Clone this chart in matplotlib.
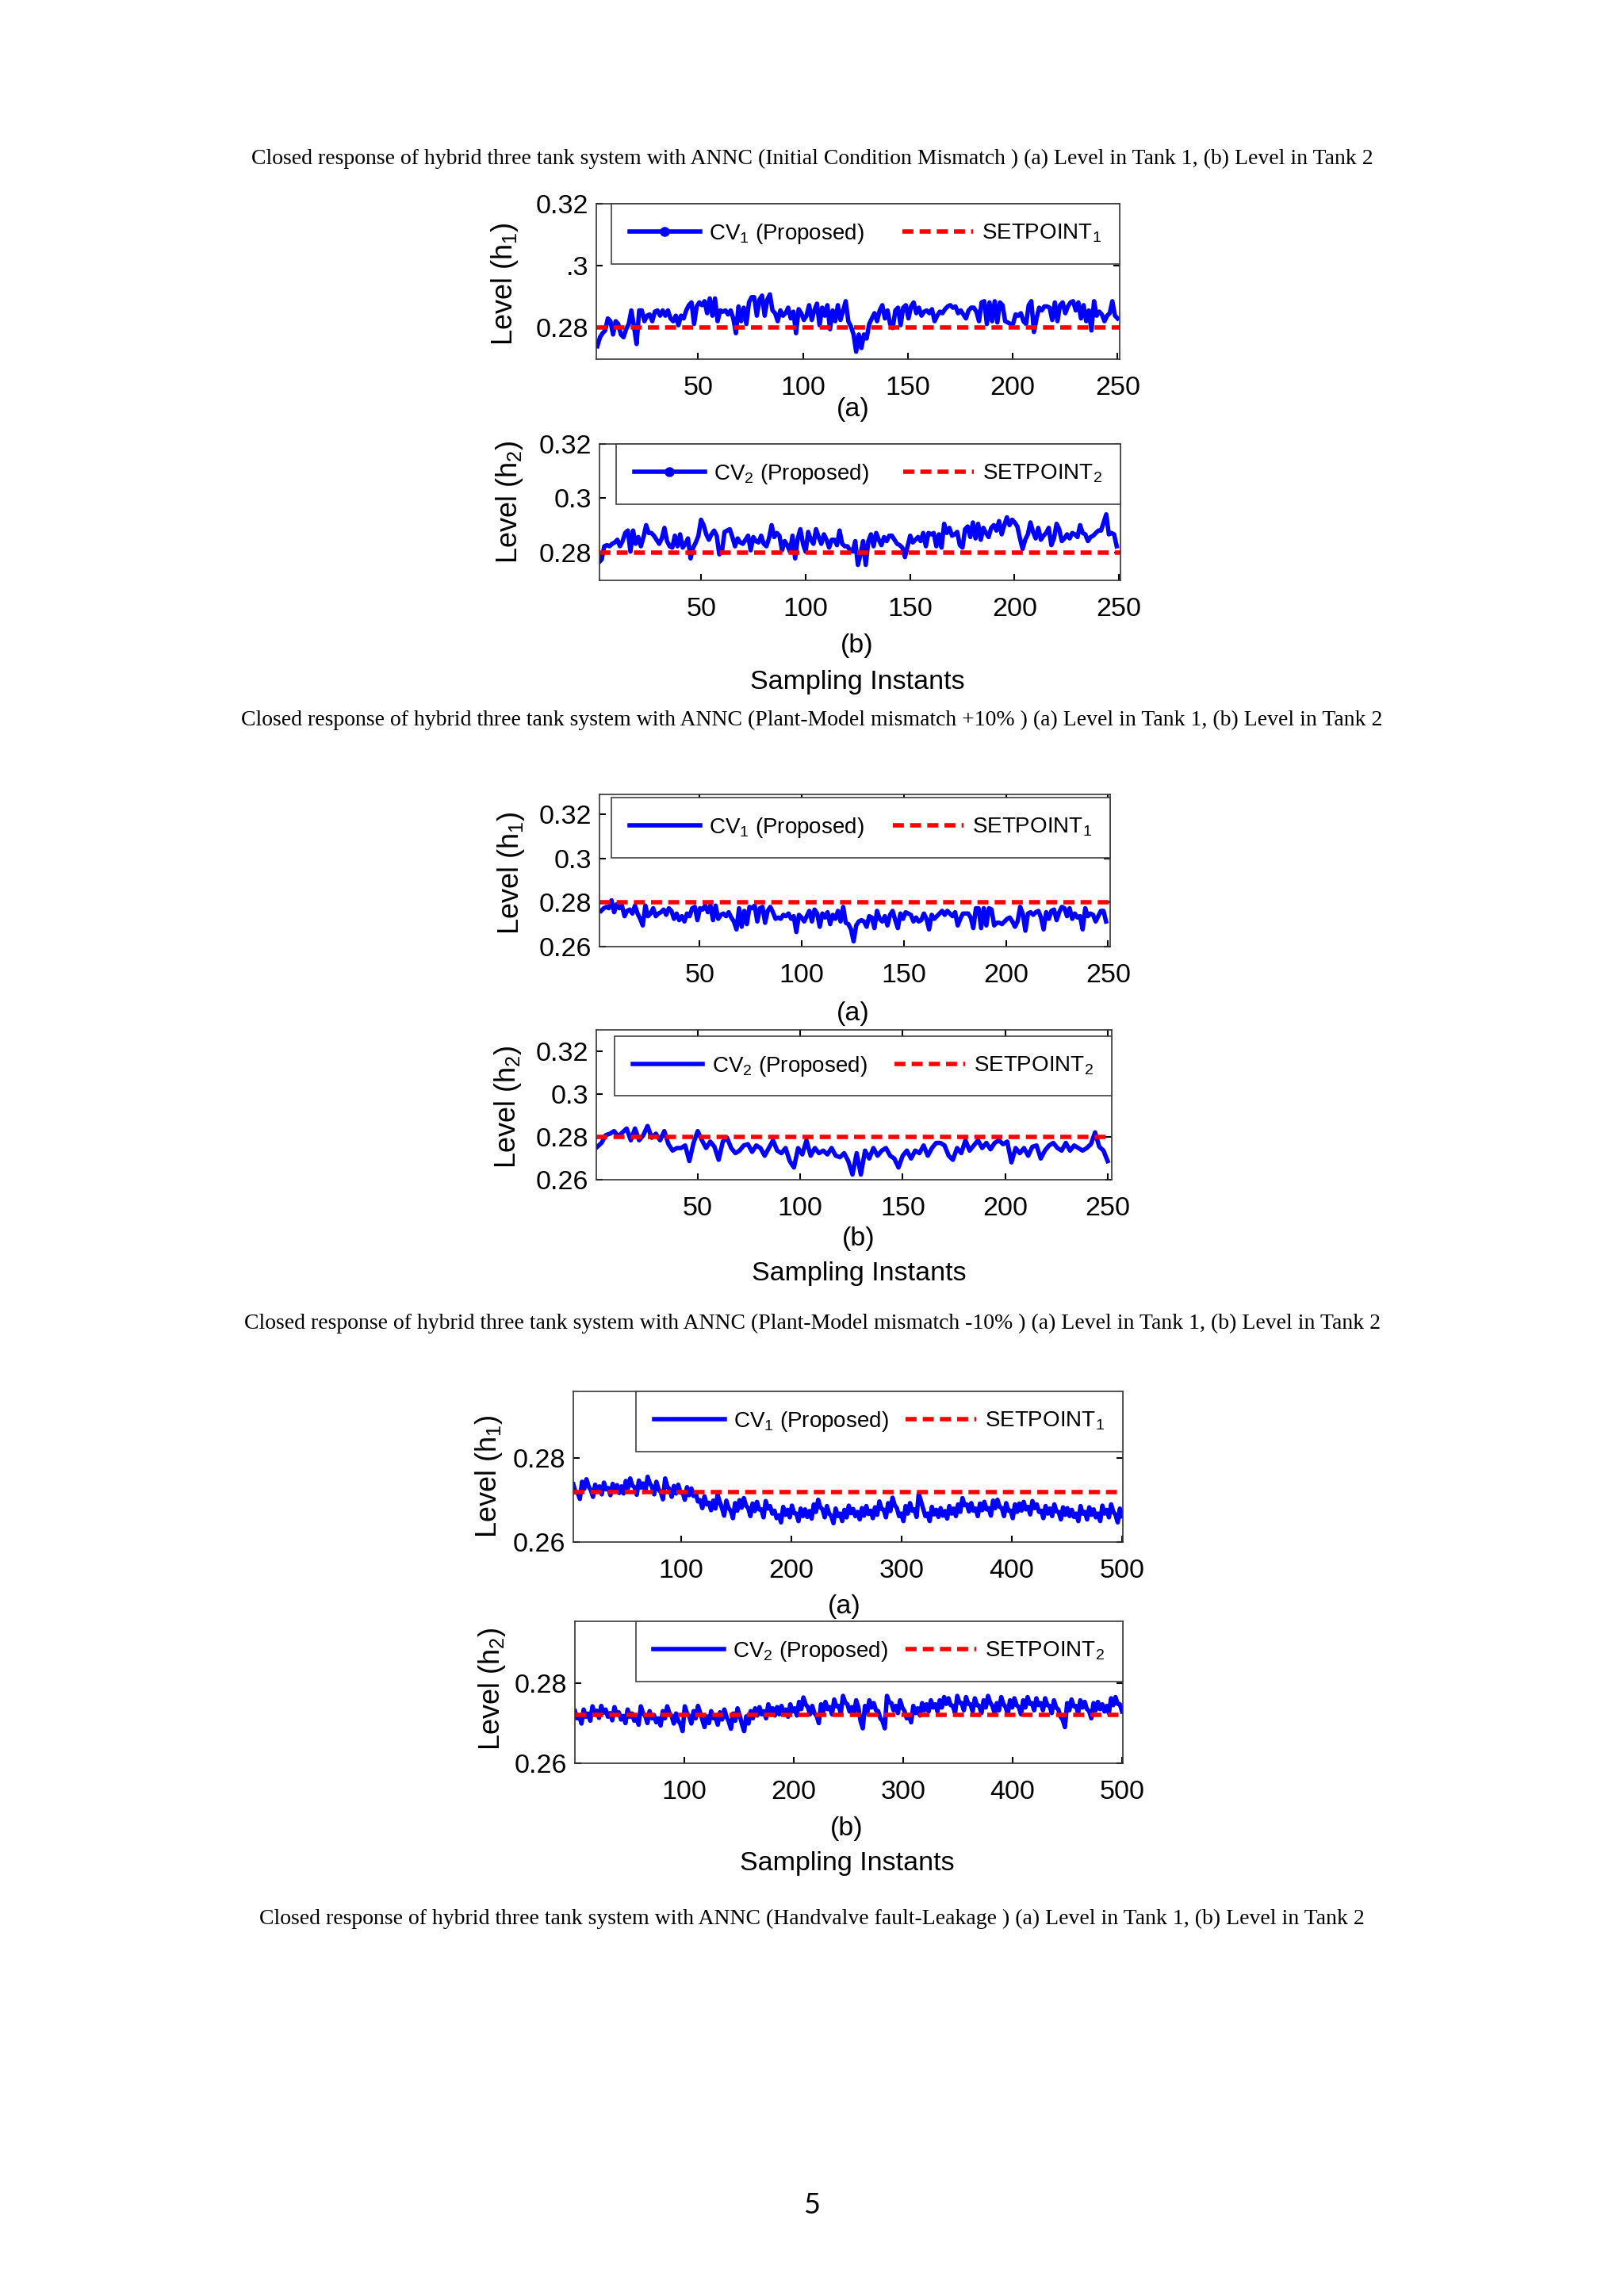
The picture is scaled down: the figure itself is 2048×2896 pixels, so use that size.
import numpy as np
import matplotlib
matplotlib.use('Agg')
import matplotlib.pyplot as plt
from matplotlib.lines import Line2D

# page size in pixels (dpi 100)
W, H = 2048, 2896

# Plant-Model mismatch +10%, level in tank 1 / tank 2
plus10_h1 = [
    0.2738, 0.2767, 0.2780, 0.2789, 0.2828, 0.2819, 0.2776, 0.2819, 0.2810, 0.2776, 0.2767,
    0.2793, 0.2810, 0.2854, 0.2802, 0.2745, 0.2854, 0.2854, 0.2819, 0.2837, 0.2841,
    0.2819, 0.2850, 0.2854, 0.2837, 0.2854, 0.2837, 0.2854, 0.2828, 0.2819, 0.2837,
    0.2806, 0.2837, 0.2828, 0.2854, 0.2871, 0.2880, 0.2810, 0.2867, 0.2880, 0.2871,
    0.2884, 0.2845, 0.2893, 0.2837, 0.2893, 0.2819, 0.2854, 0.2850, 0.2854, 0.2841,
    0.2854, 0.2828, 0.2780, 0.2867, 0.2819, 0.2863, 0.2810, 0.2880, 0.2897, 0.2897,
    0.2837, 0.2889, 0.2902, 0.2837, 0.2889, 0.2906, 0.2854, 0.2845, 0.2819, 0.2854,
    0.2837, 0.2845, 0.2863, 0.2828, 0.2850, 0.2780, 0.2858, 0.2845, 0.2823, 0.2837,
    0.2871, 0.2823, 0.2854, 0.2876, 0.2806, 0.2863, 0.2837, 0.2871, 0.2793, 0.2854,
    0.2819, 0.2871, 0.2823, 0.2854, 0.2884, 0.2819, 0.2802, 0.2776, 0.2720,
    0.2776, 0.2732, 0.2776, 0.2763, 0.2810, 0.2828, 0.2845, 0.2819, 0.2854, 0.2871,
    0.2828, 0.2854, 0.2810, 0.2797, 0.2854, 0.2863, 0.2806, 0.2863, 0.2871, 0.2828,
    0.2867, 0.2880, 0.2845, 0.2863, 0.2837, 0.2850, 0.2854, 0.2845, 0.2858, 0.2819,
    0.2837, 0.2850, 0.2845, 0.2858, 0.2867, 0.2871, 0.2863, 0.2867, 0.2845, 0.2854,
    0.2841, 0.2828, 0.2854, 0.2863, 0.2863, 0.2850, 0.2819, 0.2880, 0.2884, 0.2810,
    0.2880, 0.2819, 0.2884, 0.2815, 0.2880, 0.2871, 0.2819, 0.2815, 0.2810, 0.2810,
    0.2841, 0.2837, 0.2845, 0.2819, 0.2810, 0.2871, 0.2884, 0.2784, 0.2828, 0.2863,
    0.2854, 0.2867, 0.2867, 0.2863, 0.2823, 0.2880, 0.2819, 0.2871, 0.2880, 0.2845,
    0.2867, 0.2880, 0.2884, 0.2854, 0.2880, 0.2828, 0.2871, 0.2819, 0.2854, 0.2789,
    0.2884, 0.2837, 0.2850, 0.2841, 0.2819, 0.2837, 0.2845, 0.2884, 0.2837, 0.2828,
]
plus10_h2 = [
    0.2763, 0.2773, 0.2822, 0.2826, 0.2822, 0.2831, 0.2836, 0.2846, 0.2822, 0.2841,
    0.2871, 0.2880, 0.2802, 0.2880, 0.2831, 0.2856, 0.2822, 0.2856, 0.2900, 0.2871,
    0.2871, 0.2861, 0.2846, 0.2831, 0.2851, 0.2890, 0.2841, 0.2822, 0.2817, 0.2861,
    0.2822, 0.2866, 0.2817, 0.2831, 0.2851, 0.2777, 0.2817, 0.2836, 0.2861, 0.2920,
    0.2900, 0.2866, 0.2846, 0.2866, 0.2880, 0.2861, 0.2792, 0.2802, 0.2875, 0.2880,
    0.2885, 0.2856, 0.2822, 0.2851, 0.2836, 0.2831, 0.2846, 0.2861, 0.2807, 0.2856,
    0.2841, 0.2836, 0.2861, 0.2831, 0.2822, 0.2851, 0.2900, 0.2856, 0.2871, 0.2861,
    0.2807, 0.2841, 0.2826, 0.2802, 0.2861, 0.2777, 0.2851, 0.2885, 0.2831, 0.2802,
    0.2875, 0.2846, 0.2831, 0.2885, 0.2856, 0.2831, 0.2866, 0.2846, 0.2817, 0.2846,
    0.2846, 0.2826, 0.2880, 0.2831, 0.2822, 0.2822, 0.2807, 0.2802, 0.2841, 0.2753,
    0.2792, 0.2841, 0.2753, 0.2841, 0.2866, 0.2822, 0.2871, 0.2846, 0.2826, 0.2856,
    0.2841, 0.2861, 0.2861, 0.2846, 0.2831, 0.2826, 0.2817, 0.2782, 0.2822, 0.2861,
    0.2836, 0.2846, 0.2856, 0.2841, 0.2871, 0.2822, 0.2871, 0.2866, 0.2871, 0.2822,
    0.2866, 0.2817, 0.2905, 0.2871, 0.2890, 0.2861, 0.2866, 0.2875, 0.2826, 0.2817,
    0.2885, 0.2895, 0.2856, 0.2910, 0.2851, 0.2905, 0.2846, 0.2890, 0.2871, 0.2856,
    0.2890, 0.2900, 0.2880, 0.2915, 0.2866, 0.2900, 0.2929, 0.2900, 0.2920, 0.2910,
    0.2895, 0.2851, 0.2812, 0.2846, 0.2866, 0.2910, 0.2875, 0.2851, 0.2890, 0.2846,
    0.2861, 0.2871, 0.2890, 0.2826, 0.2851, 0.2905, 0.2885, 0.2841, 0.2851, 0.2866,
    0.2851, 0.2871, 0.2866, 0.2856, 0.2900, 0.2871, 0.2866, 0.2841, 0.2856, 0.2861,
    0.2871, 0.2880, 0.2880, 0.2910, 0.2940, 0.2866, 0.2871, 0.2866, 0.2822,
]

# Plant-Model mismatch -10%
minus10_h1 = [
    0.2762, 0.2774, 0.2780, 0.2774, 0.2810, 0.2756, 0.2792, 0.2774, 0.2786, 0.2738,
    0.2762, 0.2768, 0.2750, 0.2786, 0.2750, 0.2726, 0.2696, 0.2786, 0.2738, 0.2750,
    0.2774, 0.2738, 0.2750, 0.2756, 0.2768, 0.2744, 0.2774, 0.2762, 0.2726, 0.2750,
    0.2720, 0.2738, 0.2714, 0.2750, 0.2738, 0.2774, 0.2780, 0.2720, 0.2774, 0.2768,
    0.2786, 0.2756, 0.2786, 0.2720, 0.2786, 0.2726, 0.2744, 0.2750, 0.2738, 0.2756,
    0.2732, 0.2714, 0.2678, 0.2774, 0.2690, 0.2762, 0.2702, 0.2780, 0.2774, 0.2786,
    0.2714, 0.2774, 0.2780, 0.2708, 0.2762, 0.2780, 0.2756, 0.2726, 0.2732, 0.2726,
    0.2744, 0.2738, 0.2750, 0.2726, 0.2738, 0.2666, 0.2744, 0.2732, 0.2714, 0.2738,
    0.2762, 0.2714, 0.2768, 0.2750, 0.2690, 0.2750, 0.2732, 0.2756, 0.2702, 0.2744,
    0.2726, 0.2762, 0.2714, 0.2780, 0.2708, 0.2702, 0.2678, 0.2624, 0.2696, 0.2714,
    0.2720, 0.2714, 0.2690, 0.2738, 0.2732, 0.2684, 0.2762, 0.2726, 0.2714, 0.2738,
    0.2696, 0.2744, 0.2762, 0.2720, 0.2684, 0.2750, 0.2726, 0.2756, 0.2750, 0.2744,
    0.2714, 0.2732, 0.2714, 0.2720, 0.2750, 0.2726, 0.2678, 0.2744, 0.2726, 0.2738,
    0.2750, 0.2762, 0.2744, 0.2762, 0.2750, 0.2738, 0.2756, 0.2696, 0.2726, 0.2750,
    0.2750, 0.2750, 0.2732, 0.2684, 0.2774, 0.2774, 0.2684, 0.2774, 0.2696, 0.2774,
    0.2768, 0.2696, 0.2708, 0.2708, 0.2702, 0.2714, 0.2726, 0.2732, 0.2714, 0.2690,
    0.2714, 0.2780, 0.2750, 0.2672, 0.2750, 0.2756, 0.2744, 0.2756, 0.2762, 0.2732,
    0.2678, 0.2756, 0.2726, 0.2762, 0.2768, 0.2720, 0.2756, 0.2780, 0.2774, 0.2738,
    0.2774, 0.2726, 0.2750, 0.2732, 0.2738, 0.2678, 0.2774, 0.2738, 0.2750, 0.2744,
    0.2714, 0.2738, 0.2762, 0.2762, 0.2714,
]
minus10_h2 = [
    0.2754, 0.2772, 0.2808, 0.2815, 0.2827, 0.2802, 0.2821, 0.2839, 0.2784, 0.2839,
    0.2784, 0.2808, 0.2851, 0.2796, 0.2815, 0.2784, 0.2827, 0.2766, 0.2736, 0.2748,
    0.2748, 0.2760, 0.2687, 0.2772, 0.2827, 0.2784, 0.2748, 0.2778, 0.2754, 0.2693,
    0.2778, 0.2796, 0.2748, 0.2724, 0.2736, 0.2760, 0.2766, 0.2730, 0.2760, 0.2748,
    0.2712, 0.2748, 0.2784, 0.2736, 0.2724, 0.2748, 0.2687, 0.2657, 0.2748, 0.2718,
    0.2784, 0.2712, 0.2748, 0.2724, 0.2736, 0.2718, 0.2748, 0.2712, 0.2705, 0.2724,
    0.2687, 0.2624, 0.2724, 0.2624, 0.2736, 0.2699, 0.2748, 0.2712, 0.2736, 0.2748,
    0.2712, 0.2699, 0.2657, 0.2712, 0.2736, 0.2699, 0.2736, 0.2724, 0.2760, 0.2712,
    0.2748, 0.2772, 0.2772, 0.2760, 0.2712, 0.2693, 0.2748, 0.2724, 0.2784, 0.2736,
    0.2760, 0.2784, 0.2748, 0.2772, 0.2742, 0.2772, 0.2784, 0.2766, 0.2778, 0.2681,
    0.2748, 0.2724, 0.2748, 0.2712, 0.2754, 0.2760, 0.2699, 0.2736, 0.2760, 0.2772,
    0.2748, 0.2736, 0.2772, 0.2736, 0.2760, 0.2748, 0.2736, 0.2748, 0.2766, 0.2821,
    0.2754, 0.2736, 0.2687,
]

# Handvalve fault - leakage (upper / lower edge of the noisy band, every 2 samples)
leak_h1 = [
    0.2738, 0.2719, 0.2718, 0.2703, 0.2744, 0.2727, 0.2750, 0.2733, 0.2724, 0.2708,
    0.2737, 0.2720, 0.2733, 0.2714, 0.2742, 0.2726, 0.2729, 0.2712, 0.2739, 0.2722,
    0.2736, 0.2717, 0.2733, 0.2716, 0.2746, 0.2729, 0.2752, 0.2735, 0.2731, 0.2713,
    0.2747, 0.2730, 0.2740, 0.2723, 0.2756, 0.2740, 0.2732, 0.2714, 0.2744, 0.2726,
    0.2719, 0.2702, 0.2752, 0.2733, 0.2726, 0.2708, 0.2734, 0.2716, 0.2737, 0.2718,
    0.2719, 0.2701, 0.2731, 0.2712, 0.2728, 0.2710, 0.2716, 0.2697, 0.2700, 0.2681,
    0.2709, 0.2690, 0.2694, 0.2676, 0.2699, 0.2680, 0.2713, 0.2696, 0.2681, 0.2663,
    0.2699, 0.2681, 0.2675, 0.2657, 0.2693, 0.2675, 0.2700, 0.2682, 0.2705, 0.2687,
    0.2681, 0.2662, 0.2692, 0.2674, 0.2696, 0.2678, 0.2678, 0.2659, 0.2698, 0.2680,
    0.2686, 0.2668, 0.2675, 0.2657, 0.2664, 0.2647, 0.2684, 0.2665, 0.2677, 0.2659,
    0.2687, 0.2669, 0.2668, 0.2650, 0.2680, 0.2662, 0.2678, 0.2660, 0.2674, 0.2656,
    0.2690, 0.2672, 0.2701, 0.2683, 0.2678, 0.2659, 0.2686, 0.2668, 0.2662, 0.2645,
    0.2680, 0.2662, 0.2668, 0.2650, 0.2677, 0.2659, 0.2687, 0.2669, 0.2679, 0.2662,
    0.2672, 0.2654, 0.2681, 0.2663, 0.2686, 0.2667, 0.2675, 0.2657, 0.2683, 0.2665,
    0.2697, 0.2679, 0.2677, 0.2659, 0.2693, 0.2674, 0.2706, 0.2688, 0.2681, 0.2662,
    0.2668, 0.2650, 0.2686, 0.2668, 0.2693, 0.2675, 0.2678, 0.2660, 0.2716, 0.2698,
    0.2680, 0.2662, 0.2668, 0.2650, 0.2684, 0.2666, 0.2677, 0.2660, 0.2681, 0.2663,
    0.2674, 0.2656, 0.2686, 0.2668, 0.2680, 0.2662, 0.2690, 0.2672, 0.2705, 0.2688,
    0.2690, 0.2673, 0.2693, 0.2675, 0.2680, 0.2662, 0.2692, 0.2676, 0.2696, 0.2678,
    0.2681, 0.2663, 0.2699, 0.2681, 0.2701, 0.2684, 0.2681, 0.2662, 0.2693, 0.2675,
    0.2675, 0.2657, 0.2690, 0.2672, 0.2692, 0.2675, 0.2696, 0.2678, 0.2684, 0.2666,
    0.2698, 0.2681, 0.2690, 0.2672, 0.2675, 0.2657, 0.2686, 0.2668, 0.2680, 0.2662,
    0.2690, 0.2673, 0.2672, 0.2654, 0.2683, 0.2665, 0.2681, 0.2662, 0.2677, 0.2660,
    0.2668, 0.2650, 0.2686, 0.2668, 0.2672, 0.2654, 0.2683, 0.2665, 0.2678, 0.2659,
    0.2668, 0.2650, 0.2687, 0.2668, 0.2677, 0.2659, 0.2690, 0.2672, 0.2665, 0.2647,
    0.2680, 0.2662,
]
leak_h2 = [
    0.2730, 0.2712, 0.2717, 0.2699, 0.2734, 0.2716, 0.2724, 0.2706, 0.2742, 0.2725,
    0.2731, 0.2713, 0.2743, 0.2726, 0.2734, 0.2716, 0.2725, 0.2707, 0.2740, 0.2722,
    0.2727, 0.2709, 0.2718, 0.2700, 0.2734, 0.2716, 0.2724, 0.2706, 0.2714, 0.2696,
    0.2742, 0.2725, 0.2718, 0.2700, 0.2730, 0.2712, 0.2720, 0.2702, 0.2712, 0.2694,
    0.2730, 0.2712, 0.2742, 0.2725, 0.2718, 0.2699, 0.2724, 0.2706, 0.2698, 0.2680,
    0.2742, 0.2725, 0.2717, 0.2699, 0.2730, 0.2712, 0.2743, 0.2726, 0.2708, 0.2690,
    0.2717, 0.2700, 0.2730, 0.2712, 0.2714, 0.2696, 0.2727, 0.2709, 0.2734, 0.2716,
    0.2704, 0.2686, 0.2724, 0.2706, 0.2737, 0.2719, 0.2698, 0.2680, 0.2717, 0.2699,
    0.2730, 0.2712, 0.2737, 0.2719, 0.2740, 0.2722, 0.2730, 0.2712, 0.2747, 0.2729,
    0.2737, 0.2719, 0.2740, 0.2722, 0.2743, 0.2725, 0.2734, 0.2716, 0.2747, 0.2729,
    0.2737, 0.2719, 0.2753, 0.2735, 0.2764, 0.2747, 0.2740, 0.2722, 0.2743, 0.2725,
    0.2718, 0.2700, 0.2747, 0.2729, 0.2753, 0.2735, 0.2740, 0.2722, 0.2759, 0.2742,
    0.2743, 0.2725, 0.2768, 0.2752, 0.2747, 0.2729, 0.2740, 0.2722, 0.2757, 0.2739,
    0.2705, 0.2687, 0.2743, 0.2725, 0.2757, 0.2739, 0.2750, 0.2732, 0.2730, 0.2712,
    0.2705, 0.2687, 0.2768, 0.2752, 0.2750, 0.2732, 0.2743, 0.2725, 0.2757, 0.2739,
    0.2730, 0.2712, 0.2720, 0.2702, 0.2743, 0.2725, 0.2737, 0.2719, 0.2750, 0.2732,
    0.2747, 0.2729, 0.2757, 0.2739, 0.2747, 0.2729, 0.2757, 0.2739, 0.2765, 0.2748,
    0.2762, 0.2745, 0.2743, 0.2725, 0.2768, 0.2751, 0.2750, 0.2732, 0.2765, 0.2748,
    0.2747, 0.2729, 0.2762, 0.2745, 0.2743, 0.2725, 0.2757, 0.2739, 0.2768, 0.2751,
    0.2743, 0.2725, 0.2750, 0.2732, 0.2765, 0.2748, 0.2740, 0.2722, 0.2757, 0.2739,
    0.2762, 0.2745, 0.2740, 0.2722, 0.2757, 0.2739, 0.2765, 0.2748, 0.2750, 0.2732,
    0.2762, 0.2745, 0.2750, 0.2732, 0.2762, 0.2745, 0.2743, 0.2725, 0.2757, 0.2739,
    0.2734, 0.2716, 0.2708, 0.2690, 0.2750, 0.2732, 0.2759, 0.2742, 0.2743, 0.2725,
    0.2757, 0.2739, 0.2753, 0.2735, 0.2730, 0.2712, 0.2750, 0.2732, 0.2753, 0.2735,
    0.2747, 0.2729, 0.2743, 0.2725, 0.2762, 0.2745, 0.2765, 0.2748, 0.2747, 0.2729,
]

setpoints = [0.28, 0.28, 0.28, 0.28, 0.272, 0.272]
# first / last sampling instant covered by each series
sample_span = [(2, 250), (1, 249), (1.8, 249), (1, 250), (2.3, 500), (0, 500)]

captions = [
    "Closed response of hybrid three tank system with ANNC (Initial Condition Mismatch ) (a) Level in Tank 1, (b) Level in Tank 2",
    "Closed response of hybrid three tank system with ANNC (Plant-Model mismatch +10% ) (a) Level in Tank 1, (b) Level in Tank 2",
    "Closed response of hybrid three tank system with ANNC (Plant-Model mismatch -10% ) (a) Level in Tank 1, (b) Level in Tank 2",
    "Closed response of hybrid three tank system with ANNC (Handvalve fault-Leakage ) (a) Level in Tank 1, (b) Level in Tank 2",
]
caption_y = [200, 908, 1669, 2420]

plt.rcParams['font.family'] = ['Liberation Sans', 'DejaVu Sans']
plt.rcParams['mathtext.default'] = 'regular'

BLUE = '#0000FF'
RED = '#FF0000'
LW = 4.0
DASH = (0, (2.5, 1.4))

fig = plt.figure(figsize=(W / 100, H / 100), dpi=100)
fig.patch.set_facecolor('white')


def px_axes(left, top, right, bottom):
    return fig.add_axes([left / W, 1 - bottom / H, (right - left) / W, (bottom - top) / H])


def px_text(x, y, s, **kw):
    fig.text(x / W, 1 - y / H, s, **kw)


# one entry per panel: series, box (px), xlim, ylim, yticks, ytick labels, xticks,
# tank index, legend marker, legend left / top (axes fraction), ylabel centre (px)
panels = [
    (plus10_h1, (752, 257, 1412, 453), (1.5, 251), (0.2696, 0.32), [0.28, 0.30, 0.32],
     ['0.28', '.3', '0.32'], [50, 100, 150, 200, 250], 1, True, (0.029, 1.0), (636, 358)),
    (plus10_h2, (756, 560, 1413, 732), (1.2, 250.8), (0.2696, 0.32), [0.28, 0.30, 0.32],
     ['0.28', '0.3', '0.32'], [50, 100, 150, 200, 250], 2, True, (0.032, 1.0), (643, 633)),
    (minus10_h1, (756, 1002, 1400, 1194), (1, 251), (0.26, 0.329), [0.26, 0.28, 0.30, 0.32],
     ['0.26', '0.28', '0.3', '0.32'], [50, 100, 150, 200, 250], 1, False, (0.024, 0.979), (645, 1101)),
    (minus10_h2, (752, 1299, 1402, 1488), (0.5, 252), (0.26, 0.33), [0.26, 0.28, 0.30, 0.32],
     ['0.26', '0.28', '0.3', '0.32'], [50, 100, 150, 200, 250], 2, False, (0.035, 0.959), (640, 1396)),
    (leak_h1, (723, 1755, 1416, 1945), (2.3, 500.7), (0.26, 0.296), [0.26, 0.28],
     ['0.26', '0.28'], [100, 200, 300, 400, 500], 1, False, (0.114, 1.0), (616, 1862)),
    (leak_h2, (725, 2045, 1416, 2224), (0, 500.7), (0.26, 0.2954), [0.26, 0.28],
     ['0.26', '0.28'], [100, 200, 300, 400, 500], 2, False, (0.111, 1.0), (621, 2130)),
]

for i, (vals, box, xlim, ylim, yt, ytl, xt, tank, marker, leg_pos, ylab) in enumerate(panels):
    ax = px_axes(*box)
    x = np.linspace(sample_span[i][0], sample_span[i][1], len(vals))
    ax.plot(x, vals, color=BLUE, lw=LW, solid_joinstyle='round')
    ax.plot(xlim, [setpoints[i], setpoints[i]], color=RED, lw=LW, linestyle=DASH)
    ax.set_xlim(*xlim)
    ax.set_ylim(*ylim)
    ax.set_xticks(xt)
    ax.set_yticks(yt)
    ax.set_yticklabels(ytl)
    ax.tick_params(direction='in', top=True, right=True, length=6, width=1.5,
                   labelsize=24.5, colors='black')
    ax.tick_params(axis='x', pad=15)
    ax.tick_params(axis='y', pad=7)
    for sp in ax.spines.values():
        sp.set_linewidth(1.2)
        sp.set_color('#333333')

    handles = [
        Line2D([], [], color=BLUE, lw=LW, marker='o' if marker else None, markersize=8),
        Line2D([], [], color=RED, lw=LW, linestyle=DASH),
    ]
    labels = [rf'CV$_{tank}$ (Proposed)', rf'SETPOINT$_{tank}$']
    x0, top = leg_pos
    leg = ax.legend(handles, labels, loc='upper left', bbox_to_anchor=(x0, top - 0.3, 1.0 - x0, 0.3),
                    mode='expand', ncol=2, fontsize=20, frameon=True, fancybox=False,
                    edgecolor='#404040', framealpha=1, borderpad=0.82, handlelength=3.2,
                    handletextpad=0.4, columnspacing=0.6, borderaxespad=0)
    leg.get_frame().set_linewidth(1.2)

    px_text(ylab[0], ylab[1], rf'Level (h$_{tank}$)', rotation=90, ha='center', va='center',
            fontsize=26)

# panel sub-captions and axis titles
px_text(1076, 516, '(a)', ha='center', va='center', fontsize=24.5)
px_text(1081, 815, '(b)', ha='center', va='center', fontsize=24.5)
px_text(1081, 861, 'Sampling Instants', ha='center', va='center', fontsize=24.5)
px_text(1076, 1279, '(a)', ha='center', va='center', fontsize=24.5)
px_text(1083, 1562, '(b)', ha='center', va='center', fontsize=24.5)
px_text(1083, 1606, 'Sampling Instants', ha='center', va='center', fontsize=24.5)
px_text(1065, 2026, '(a)', ha='center', va='center', fontsize=24.5)
px_text(1068, 2307, '(b)', ha='center', va='center', fontsize=24.5)
px_text(1068, 2351, 'Sampling Instants', ha='center', va='center', fontsize=24.5)

for cap, cy in zip(captions, caption_y):
    px_text(1024, cy, cap, ha='center', va='center', fontsize=20,
            family=['Liberation Serif', 'DejaVu Serif'])

px_text(1024, 2782, '5', ha='center', va='center', fontsize=26,
        family=['Lato', 'DejaVu Sans'])

fig.savefig('out.png', dpi=100, facecolor='white')
